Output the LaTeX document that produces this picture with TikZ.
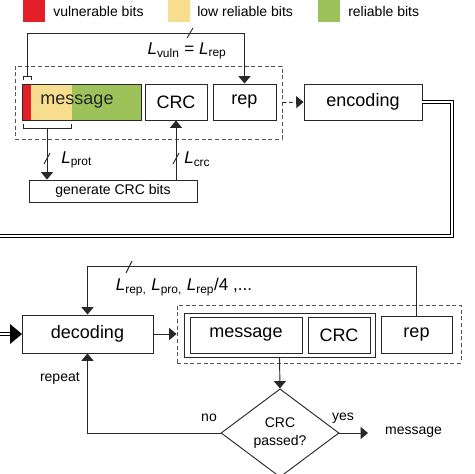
\documentclass[tikz,border=0pt]{standalone}
\usepackage{fontspec}
\setmainfont{Liberation Sans}
\usetikzlibrary{arrows.meta,shapes.geometric}
\definecolor{vulncol}{RGB}{227,32,42}
\definecolor{lowcol}{RGB}{247,222,142}
\definecolor{relcol}{RGB}{157,194,90}
\definecolor{linecol}{RGB}{40,40,40}
\tikzset{
  blk/.style={draw=linecol, line width=0.7pt, inner sep=0pt, minimum height=27pt, font=\fontsize{13.5}{15}\selectfont},
  smalltxt/.style={inner sep=0.75pt, font=\fontsize{10.5}{14}\selectfont},
  lentxt/.style={inner sep=0.75pt, font=\fontsize{12.8}{15}\selectfont},
  dashbox/.style={draw=linecol!80, dashed, dash pattern=on 3pt off 2pt, line width=0.7pt, inner sep=0pt},
  conn/.style={draw=linecol, line width=0.7pt},
  arr/.style={conn, -{Triangle[width=9pt,length=5.5pt]}},
  dbl/.style={draw=black, line width=1.1pt, double=white, double distance=1.2pt},
  legsq/.style={inner sep=0pt, minimum size=16.5pt},
}
\begin{document}
\begin{tikzpicture}[x=0.75pt,y=0.75pt,yscale=-1,xscale=1]
\useasboundingbox (0,0) rectangle (474,474);
% legend
\node [legsq, fill=vulncol] (sqvuln) at (33.5,11) {};
\node [smalltxt, anchor=west] (txvuln) at (52,11) {vulnerable bits};
\node [legsq, fill=lowcol] (sqlow) at (179,11) {};
\node [smalltxt, anchor=west] (txlow) at (196,11) {low reliable bits};
\node [legsq, fill=relcol] (sqrel) at (329,11) {};
\node [smalltxt, anchor=west] (txrel) at (347,11) {reliable bits};

% sender side
\node [dashbox, minimum width=200.25pt, minimum height=54.75pt] (sendbox) at (148.5,102.5) {};
%Shape: message colour bands
\fill [vulncol] (22,84) rectangle (31,120);
\fill [lowcol] (31,84) rectangle (72,120);
\fill [relcol] (72,84) rectangle (141,120);
\node [blk, minimum width=89.25pt, text=black!85] (msg) at (81.5,102) {\hspace*{-6.75pt}message};
\node [blk, minimum width=46.5pt] (crc) at (176,102) {CRC};
\node [blk, minimum width=47.25pt] (rep) at (244.5,102) {rep};
\node [blk, minimum width=88.5pt] (enc) at (363,102) {encoding};
\node [blk, minimum width=126pt, minimum height=16.5pt, font=\fontsize{10.5}{12}\selectfont] (gen) at (113,191) {generate CRC bits};

%Brackets over the message bits
\draw [conn] (23,80) -- (23,76) -- (31,76) -- (31,80);
\coordinate (vulnbr) at (27,76);
\draw [conn] (23,124) -- (23,128) -- (71,128) -- (71,124);
\coordinate (protbr) at (47,128);

% connectors
\draw [arr] (vulnbr) -- (27,33) -| (rep.north);
\draw [conn] (187,38) -- (193,28);
\node [lentxt] (lvuln) at (187,51) {\textit{L}\textsubscript{vuln} = \textit{L}\textsubscript{rep}};
\draw [arr] (protbr) -- (gen.north -| protbr);
\draw [conn] (44,164) -- (50,153);
\node [lentxt, anchor=west] (lprot) at (60,160) {\textit{L}\textsubscript{prot}};
\draw [arr] (gen.north -| crc) -- (crc.south);
\draw [conn] (173,164) -- (179,153);
\node [lentxt, anchor=west] (lcrc) at (183,159) {\textit{L}\textsubscript{crc}};
\draw [arr, dashed, dash pattern=on 3pt off 2pt] (sendbox.east) -- (enc.west);

%Channel
\coordinate (chA) at (452,102);
\coordinate (chB) at (452,236);
\coordinate (chC) at (-4,236);
\draw [dbl] (enc.east) -- (chA) -- (chB) -- (chC);

% receiver side
\coordinate (chin) at (-4,334);
\node [blk, minimum width=98.25pt, minimum height=28.5pt] (dec) at (87.5,334) {decoding};
\draw [dbl] (chin) -- (10,334);
\fill (10,324) -- (22,334) -- (10,344) -- cycle;
\node [dashbox, minimum width=213pt, minimum height=43.5pt] (recvbox) at (319,334) {};
\node [blk, minimum width=143.25pt, minimum height=33pt] (pair) at (279.5,335) {};
\node [blk, minimum width=84pt] (msgr) at (246,335) {message};
\node [blk, minimum width=46.5pt] (crcr) at (339,335) {CRC};
\node [blk, minimum width=53.25pt, minimum height=27.75pt] (repr) at (416.5,334.5) {rep};
\node [draw=linecol, line width=0.7pt, shape=diamond, minimum width=88.5pt, minimum height=60pt, inner sep=0pt, smalltxt, align=center] (chk) at (280,433) {CRC\\passed?};
\coordinate (outtip) at (368,433);
\node [smalltxt] (msgout) at (413.5,432) {message};

\draw [arr] (dec.east) -- (recvbox.west |- dec.east);
\draw [arr] (repr.north) -- ++(0,-49) -| (dec.north);
\draw [conn] (126,273) -- (132,261);
\node [lentxt] (lrep) at (184,287) {\textit{L}\textsubscript{rep,} \textit{L}\textsubscript{pro,} \textit{L}\textsubscript{rep}/4 ,...};
\draw [arr] (pair.south) -- (chk.north);
\draw [arr] (chk.west) -| (dec.south);
\draw [arr] (chk.east) -- (outtip);

% Text Node
\node [smalltxt, anchor=east] (lrepeat) at (81,378) {repeat};
\node [smalltxt] (lno) at (209,418) {no};
\node [smalltxt] (lyes) at (343,418) {yes};
\end{tikzpicture}
\end{document}
